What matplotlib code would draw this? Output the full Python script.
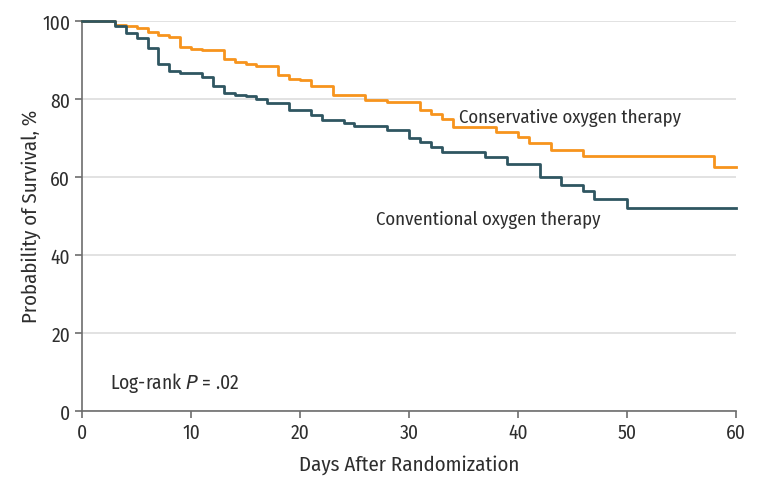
import matplotlib
matplotlib.use("Agg")
from matplotlib import pyplot as plt

# Kaplan-Meier curves
cons_days = [0, 3, 4, 5, 6, 7, 8, 9, 10, 11, 13, 14, 15, 16, 18, 19, 20, 21, 23,
             26, 28, 31, 32, 33, 34, 38, 40, 41, 43, 46, 58, 60]
cons_surv = [100, 99.0, 98.6, 98.2, 97.2, 96.3, 95.9, 93.3, 92.8, 92.4, 90.1, 89.4,
             89.0, 88.4, 86.2, 85.2, 84.7, 83.4, 80.9, 79.8, 79.2, 77.1, 76.1, 74.9,
             72.7, 71.5, 70.1, 68.7, 66.8, 65.3, 62.5, 62.5]

conv_days = [0, 3, 4, 5, 6, 7, 8, 9, 11, 12, 13, 14, 15, 16, 17, 19, 21, 22, 24,
             25, 28, 30, 31, 32, 33, 37, 39, 42, 44, 46, 47, 50, 60]
conv_surv = [100, 98.6, 96.9, 95.6, 93.1, 89.0, 87.1, 86.6, 85.6, 83.4, 81.5, 81.1,
             80.7, 80.0, 78.9, 77.2, 75.9, 74.5, 73.8, 73.0, 72.1, 70.0, 68.9, 67.6,
             66.4, 65.0, 63.4, 59.9, 58.0, 56.3, 54.4, 52.0, 52.0]

x_ticks = [0, 10, 20, 30, 40, 50, 60]
y_ticks = [0, 20, 40, 60, 80, 100]

orange = "#F7941D"
teal = "#2F5661"
gray = "#6d6d6d"
text_c = "#2e2e2e"

plt.rcParams['font.family'] = ['Fira Sans Condensed', 'DejaVu Sans']

fig = plt.figure(figsize=(7.68, 4.85), dpi=100)
ax = fig.add_axes([0.107, 0.151, 0.851, 0.804])

ax.plot(cons_days, cons_surv, drawstyle="steps-post", color=orange, lw=2.0,
        clip_on=False, zorder=3)
ax.plot(conv_days, conv_surv, drawstyle="steps-post", color=teal, lw=2.0,
        clip_on=False, zorder=4)

ax.set_xlim(0, 60)
ax.set_ylim(0, 100)
ax.set_xticks(x_ticks)
ax.set_yticks(y_ticks)
ax.grid(axis="y", color="#dddddd", lw=1.2)
ax.set_axisbelow(True)

for s in ["top", "right"]:
    ax.spines[s].set_visible(False)
for s in ["left", "bottom"]:
    ax.spines[s].set_color(gray)
    ax.spines[s].set_linewidth(1.2)
ax.tick_params(colors=gray, labelcolor=text_c, labelsize=14, length=5, width=1.2)

ax.set_xlabel("Days After Randomization", fontsize=15, color=text_c, labelpad=9)
ax.set_ylabel("Probability of Survival, %", fontsize=15, color=text_c, labelpad=1)

ax.text(34.6, 75.4, "Conservative oxygen therapy", fontsize=13.5, color=text_c,
        va="center", ha="left")
ax.text(27, 49.2, "Conventional oxygen therapy", fontsize=13.5, color=text_c,
        va="center", ha="left")
ax.text(2.6, 7.5, "Log-rank $\\it{P}$ = .02", fontsize=14, color=text_c,
        va="center", ha="left")

fig.savefig("out.png", dpi=100)
